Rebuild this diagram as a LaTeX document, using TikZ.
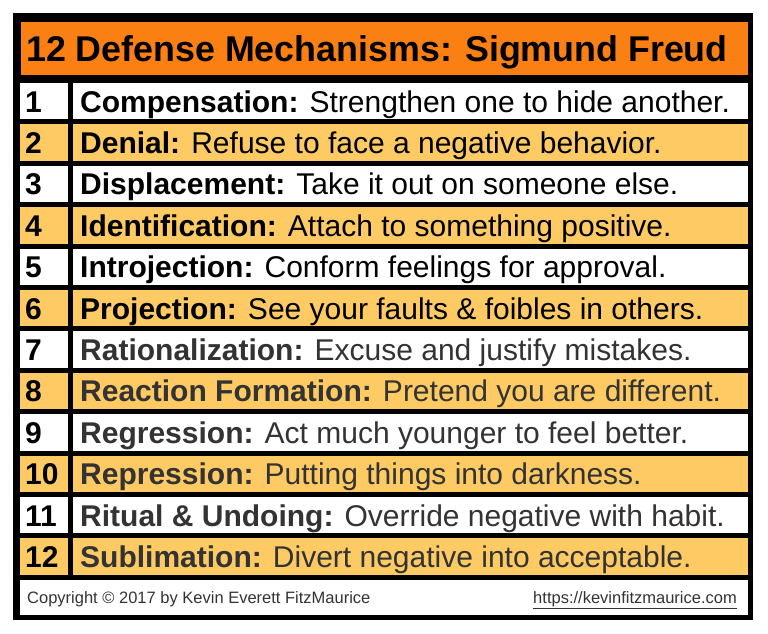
\documentclass[tikz,border=0pt]{standalone}
\usepackage{fontspec}
\setmainfont{Liberation Sans}
\definecolor{hdr}{RGB}{251,128,20}
\definecolor{band}{RGB}{253,202,100}
\definecolor{ink}{RGB}{51,51,51}
\tikzset{
  titletxt/.style={anchor=base west, inner sep=0pt, font=\fontsize{35.8}{40}\selectfont\bfseries},
  numtxt/.style={anchor=base west, inner sep=0pt, font=\fontsize{30}{34}\selectfont\bfseries},
  rowtxt/.style={anchor=base west, inner sep=0pt, font=\fontsize{30}{34}\selectfont},
  foottxt/.style={inner sep=0pt, text=ink, font=\fontsize{16.5}{19}\selectfont},
}
\begin{document}
\begin{tikzpicture}[x=1pt,y=-1pt]
\useasboundingbox (0,0) rectangle (768,634);
\fill[black] (13,13) rectangle (753,620);
\fill[hdr] (21,22) rectangle (748,75);
\node[titletxt] (title) at (26,62) {12 Defense Mechanisms: Sigmund Freud};
\foreach \n/\b/\d in {
  1/Compensation:/Strengthen one to hide another.,
  2/Denial:/Refuse to face a negative behavior.,
  3/Displacement:/Take it out on someone else.,
  4/Identification:/Attach to something positive.,
  5/Introjection:/Conform feelings for approval.,
  6/Projection:/See your faults \& foibles in others.,
  7/Rationalization:/Excuse and justify mistakes.,
  8/Reaction Formation:/Pretend you are different.,
  9/Regression:/Act much younger to feel better.,
  10/Repression:/Putting things into darkness.,
  11/Ritual \& Undoing:/Override negative with habit.,
  12/Sublimation:/Divert negative into acceptable.}{
  \pgfmathsetmacro{\rtop}{83+41.4*(\n-1)}
  \pgfmathsetmacro{\rbot}{\rtop+36.3}
  \pgfmathsetmacro{\rbase}{\rtop+29}
  \ifodd\n \def\rowfill{white}\else\def\rowfill{band}\fi
  \ifnum\n>6 \def\txtcol{ink}\else\def\txtcol{black}\fi
  \fill[\rowfill] (20,\rtop) rectangle (68,\rbot);
  \fill[\rowfill] (73,\rtop) rectangle (748,\rbot);
  \node[numtxt] (num\n) at (25,\rbase) {\n};
  \node[rowtxt, text=\txtcol] (txt\n) at (80,\rbase) {\textbf{\b} \d};
}
\fill[white] (20,580) rectangle (748,615);
\node[foottxt, anchor=base west] (copy) at (27,603) {Copyright © 2017 by Kevin Everett FitzMaurice};
\node[foottxt, anchor=base east] (url) at (737,603) {\underline{https://kevinfitzmaurice.com}};
\end{tikzpicture}
\end{document}
